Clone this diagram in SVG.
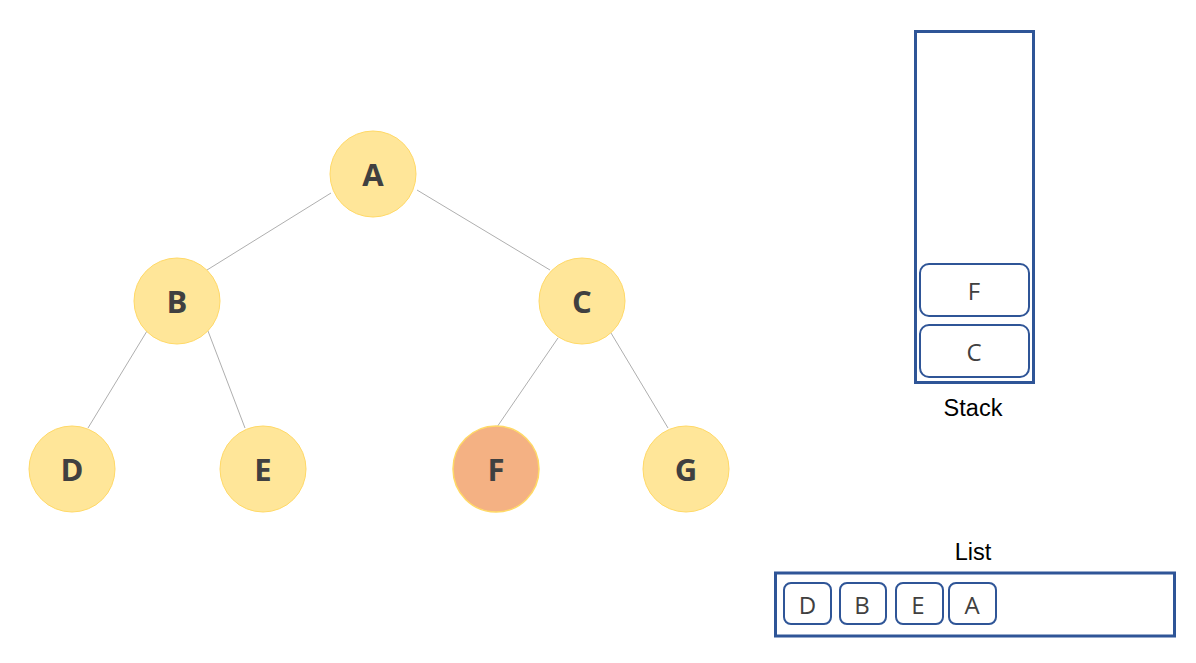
<svg xmlns="http://www.w3.org/2000/svg" width="1196" height="663" viewBox="0 0 1196 663">
<style>
.node{fill:#ffe699;stroke:#ffd966;stroke-width:1}
.hl{fill:#f4b183;stroke:#ffd966;stroke-width:1.5}
.nt{font-family:"Open Sans","Noto Sans",sans-serif;font-weight:bold;font-size:31px;fill:#404040;text-anchor:middle;dominant-baseline:central}
.edge{stroke:#afafaf;stroke-width:1;fill:none}
.box{fill:none;stroke:#2f5597;stroke-width:3}
.cell{fill:#fff;stroke:#2f5597;stroke-width:2}
.ct{font-family:"Open Sans","Noto Sans",sans-serif;font-size:24px;fill:#404040;text-anchor:middle;dominant-baseline:central}
.lbl{font-family:"Liberation Sans",Arial,sans-serif;font-size:23.5px;fill:#000;text-anchor:middle;dominant-baseline:central}
</style>
<rect width="1196" height="663" fill="#fff"/>
<g id="connectors">
<line class="edge" x1="331" y1="193" x2="207" y2="270"/>
<line class="edge" x1="417" y1="190" x2="550" y2="270"/>
<line class="edge" x1="147" y1="331" x2="88" y2="428"/>
<line class="edge" x1="208" y1="331" x2="245" y2="428"/>
<line class="edge" x1="558" y1="338" x2="497" y2="427"/>
<line class="edge" x1="611" y1="333" x2="668" y2="428"/>
</g>
<g id="nodeA"><circle class="node" cx="373" cy="174" r="43"/><text class="nt" x="373" y="174">A</text></g>
<g id="nodeB"><circle class="node" cx="177" cy="301" r="43"/><text class="nt" x="177" y="301">B</text></g>
<g id="nodeC"><circle class="node" cx="582" cy="301" r="43"/><text class="nt" x="582" y="301">C</text></g>
<g id="nodeD"><circle class="node" cx="72" cy="469" r="43"/><text class="nt" x="72" y="469">D</text></g>
<g id="nodeE"><circle class="node" cx="263" cy="469" r="43"/><text class="nt" x="263" y="469">E</text></g>
<g id="nodeF"><circle class="hl" cx="496" cy="469" r="43"/><text class="nt" x="496" y="469">F</text></g>
<g id="nodeG"><circle class="node" cx="686" cy="469" r="43"/><text class="nt" x="686" y="469">G</text></g>
<g id="stack">
<rect class="box" x="915.5" y="31.5" width="118" height="351"/>
<rect class="cell" x="920" y="264" width="109" height="52" rx="9"/>
<text class="ct" x="974" y="290">F</text>
<rect class="cell" x="920" y="325" width="109" height="52" rx="9"/>
<text class="ct" x="974" y="351">C</text>
<text class="lbl" x="973" y="408">Stack</text>
</g>
<g id="list">
<text class="lbl" x="973" y="552">List</text>
<rect class="box" x="775.5" y="573" width="399" height="63"/>
<rect class="cell" x="784" y="583" width="47" height="41" rx="7"/>
<text class="ct" x="807.5" y="604">D</text>
<rect class="cell" x="840" y="583" width="46" height="41" rx="7"/>
<text class="ct" x="862" y="604">B</text>
<rect class="cell" x="896" y="583" width="47" height="41" rx="7"/>
<text class="ct" x="918" y="604">E</text>
<rect class="cell" x="949" y="583" width="47" height="41" rx="7"/>
<text class="ct" x="972" y="604">A</text>
</g>
</svg>
